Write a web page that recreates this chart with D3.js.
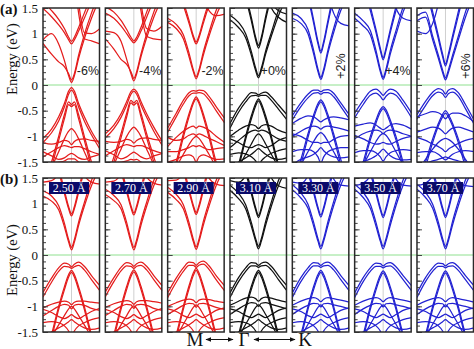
<!DOCTYPE html>
<html><head><meta charset="utf-8">
<script src="https://cdn.jsdelivr.net/npm/d3@7"></script>
<style>body{margin:0;background:#fff}svg{display:block}</style>
</head><body>
<svg id="chart" width="474" height="349"></svg>
<script>
// k-path sample points: M = -1, Gamma = 0, K = +1
const kPoints = [-1, -0.7, -0.45, -0.25, -0.1, 0, 0.1, 0.25, 0.45, 0.7, 1];
const energyTicks = [1.5, 1, 0.5, 0, -0.5, -1, -1.5];
const strainLabels = ["-6%", "-4%", "-2%", "+0%", "+2%", "+4%", "+6%"];
const distanceLabels = ["2.50 Å", "2.70 Å", "2.90 Å", "3.10 Å", "3.30 Å", "3.50 Å", "3.70 Å"];
const panelColors = ["red", "red", "red", "black", "blue", "blue", "blue"];

// band energies (eV) at kPoints, one array per band
const bandsA1 = [
 [0.88,1.0,0.8,0.48,0.18,0.05,0.18,0.52,0.9,1.3,1.7],
 [0.81,0.6,0.45,0.36,0.22,0.1,0.22,0.58,0.98,1.4,1.8],
 [1.49,1.33,1.17,1.02,0.88,0.8,0.88,1.05,1.3,1.62,1.9],
 [1.62,1.45,1.28,1.1,0.93,0.85,0.93,1.12,1.4,1.72,2.0],
 [3,3,3,3,3,2.8,2.3,1.6,1.02,1.0,1.1],
 [3,3,3,3,3,2.6,2.1,1.4,0.9,0.86,0.8],
 [-1.04,-0.86,-0.62,-0.36,-0.12,-0.05,-0.12,-0.36,-0.62,-0.9,-1.17],
 [-1.12,-0.93,-0.7,-0.43,-0.18,-0.1,-0.18,-0.43,-0.7,-0.97,-1.25],
 [-2.0,-1.5,-1.0,-0.58,-0.33,-0.38,-0.33,-0.58,-1.0,-1.5,-2.0],
 [-2.1,-1.6,-1.08,-0.66,-0.38,-0.42,-0.38,-0.66,-1.08,-1.6,-2.1],
 [-1.9,-1.6,-1.3,-1.05,-0.9,-0.85,-0.9,-1.05,-1.3,-1.6,-1.9],
 [-1.12,-1.15,-1.12,-1.08,-1.1,-1.16,-1.1,-1.06,-1.05,-1.08,-1.1],
 [-1.4,-1.3,-1.22,-1.18,-1.2,-1.22,-1.2,-1.2,-1.24,-1.3,-1.35],
 [-1.3,-1.38,-1.45,-1.42,-1.36,-1.33,-1.36,-1.42,-1.45,-1.4,-1.35],
 [-1.6,-1.52,-1.5,-1.48,-1.44,-1.44,-1.44,-1.5,-1.55,-1.55,-1.6]
];
const bandsA2 = [
 [1.05,1.02,0.85,0.5,0.22,0.08,0.22,0.55,0.92,1.32,1.7],
 [0.9,0.7,0.5,0.4,0.26,0.13,0.26,0.6,1.0,1.42,1.8],
 [1.4,1.3,1.15,1.0,0.88,0.82,0.88,1.05,1.32,1.65,1.9],
 [1.52,1.42,1.26,1.08,0.93,0.86,0.93,1.12,1.42,1.75,2.0],
 [3,3,3,3,3,2.8,2.3,1.6,1.1,1.05,1.15],
 [3,3,3,3,3,2.6,2.1,1.45,0.95,0.9,0.88],
 [-0.95,-0.78,-0.56,-0.32,-0.13,-0.08,-0.13,-0.32,-0.56,-0.82,-1.1],
 [-1.03,-0.85,-0.63,-0.39,-0.18,-0.12,-0.18,-0.39,-0.63,-0.9,-1.18],
 [-1.9,-1.4,-0.95,-0.55,-0.3,-0.35,-0.3,-0.55,-0.95,-1.4,-1.9],
 [-2.0,-1.5,-1.03,-0.62,-0.35,-0.39,-0.35,-0.62,-1.03,-1.5,-2.0],
 [-1.85,-1.55,-1.25,-1.0,-0.87,-0.82,-0.87,-1.0,-1.25,-1.55,-1.85],
 [-1.1,-1.12,-1.1,-1.06,-1.08,-1.13,-1.08,-1.04,-1.03,-1.06,-1.08],
 [-1.38,-1.28,-1.2,-1.16,-1.18,-1.2,-1.18,-1.18,-1.22,-1.28,-1.33],
 [-1.28,-1.36,-1.44,-1.4,-1.34,-1.31,-1.34,-1.4,-1.44,-1.38,-1.33],
 [-1.6,-1.52,-1.5,-1.48,-1.45,-1.46,-1.45,-1.5,-1.55,-1.55,-1.6]
];
const bandsA3 = [
 [1.22,1.1,0.9,0.55,0.26,0.12,0.26,0.58,0.95,1.35,1.7],
 [1.3,1.18,0.98,0.62,0.3,0.16,0.3,0.64,1.02,1.45,1.8],
 [2.2,1.9,1.55,1.2,0.92,0.8,0.92,1.2,1.55,1.9,2.2],
 [2.3,2.0,1.62,1.26,0.96,0.84,0.96,1.26,1.62,2.0,2.3],
 [3,3,3,3,2.8,2.5,2.2,1.8,1.45,1.35,1.38],
 [-0.84,-0.55,-0.3,-0.15,-0.11,-0.12,-0.1,-0.11,-0.22,-0.42,-0.65],
 [-0.92,-0.62,-0.37,-0.21,-0.16,-0.16,-0.15,-0.17,-0.29,-0.5,-0.74],
 [-2.0,-1.5,-0.95,-0.56,-0.32,-0.23,-0.32,-0.56,-0.95,-1.5,-2.0],
 [-2.1,-1.58,-1.02,-0.62,-0.36,-0.27,-0.36,-0.62,-1.02,-1.58,-2.1],
 [-1.2,-1.02,-0.9,-0.83,-0.8,-0.84,-0.8,-0.82,-0.88,-1.0,-1.12],
 [-1.02,-1.08,-1.05,-0.98,-0.95,-0.98,-0.95,-0.98,-1.04,-1.1,-1.18],
 [-1.9,-1.6,-1.35,-1.16,-1.04,-1.0,-1.04,-1.16,-1.35,-1.6,-1.9],
 [-1.3,-1.3,-1.26,-1.22,-1.18,-1.2,-1.18,-1.22,-1.26,-1.24,-1.22],
 [-1.5,-1.45,-1.38,-1.36,-1.4,-1.5,-1.4,-1.36,-1.4,-1.45,-1.44]
];
const bandsA4 = [
 [1.27,1.12,0.92,0.58,0.28,0.14,0.28,0.6,0.95,1.35,1.7],
 [1.36,1.22,1.0,0.65,0.33,0.18,0.33,0.66,1.02,1.45,1.8],
 [2.4,2.0,1.68,1.25,0.88,0.72,0.88,1.27,1.72,2.1,2.4],
 [2.5,2.1,1.76,1.31,0.93,0.77,0.93,1.33,1.8,2.2,2.5],
 [3,3,3,3,2.8,2.5,2.2,1.8,1.5,1.32,1.22],
 [3,3,3,3,2.8,2.6,2.3,1.9,1.6,1.45,1.38],
 [-0.75,-0.45,-0.26,-0.15,-0.16,-0.19,-0.16,-0.14,-0.23,-0.39,-0.58],
 [-0.84,-0.53,-0.33,-0.21,-0.2,-0.22,-0.2,-0.2,-0.3,-0.47,-0.68],
 [-2.1,-1.55,-1.0,-0.6,-0.36,-0.27,-0.36,-0.6,-1.0,-1.55,-2.1],
 [-2.2,-1.62,-1.06,-0.66,-0.41,-0.31,-0.41,-0.66,-1.06,-1.62,-2.2],
 [-1.0,-0.88,-0.8,-0.77,-0.8,-0.85,-0.8,-0.77,-0.8,-0.88,-0.94],
 [-1.22,-1.08,-0.97,-0.9,-0.88,-0.9,-0.88,-0.9,-0.97,-1.05,-1.1],
 [-1.9,-1.6,-1.35,-1.15,-1.0,-0.95,-1.0,-1.15,-1.35,-1.6,-1.9],
 [-1.05,-1.12,-1.2,-1.22,-1.18,-1.16,-1.18,-1.22,-1.18,-1.08,-1.02],
 [-1.35,-1.32,-1.34,-1.4,-1.48,-1.58,-1.48,-1.4,-1.33,-1.28,-1.24],
 [-1.6,-1.5,-1.42,-1.35,-1.28,-1.24,-1.28,-1.35,-1.42,-1.45,-1.42]
];
const bandsA5 = [
 [1.3,1.2,1.0,0.6,0.26,0.11,0.26,0.62,1.02,1.45,1.8],
 [1.4,1.3,1.08,0.67,0.31,0.15,0.31,0.68,1.1,1.55,1.9],
 [2.5,2.1,1.7,1.2,0.8,0.62,0.8,1.2,1.7,2.1,2.5],
 [2.6,2.2,1.78,1.26,0.85,0.66,0.85,1.26,1.78,2.2,2.6],
 [3,3,3,3,3,2.8,2.4,1.8,1.4,1.2,1.15],
 [-0.6,-0.35,-0.18,-0.1,-0.1,-0.13,-0.1,-0.09,-0.16,-0.35,-0.58],
 [-0.68,-0.42,-0.25,-0.16,-0.15,-0.18,-0.15,-0.15,-0.23,-0.42,-0.66],
 [-2.0,-1.45,-0.95,-0.58,-0.36,-0.29,-0.36,-0.58,-0.95,-1.45,-2.0],
 [-2.1,-1.55,-1.02,-0.64,-0.41,-0.33,-0.41,-0.64,-1.02,-1.55,-2.1],
 [-0.75,-0.65,-0.6,-0.62,-0.68,-0.72,-0.68,-0.64,-0.62,-0.64,-0.68],
 [-1.0,-0.9,-0.83,-0.8,-0.82,-0.86,-0.82,-0.8,-0.82,-0.85,-0.9],
 [-1.8,-1.55,-1.3,-1.1,-0.97,-0.93,-0.97,-1.1,-1.3,-1.55,-1.8],
 [-0.95,-1.0,-1.08,-1.12,-1.12,-1.14,-1.12,-1.12,-1.06,-1.0,-0.98],
 [-1.3,-1.26,-1.26,-1.3,-1.4,-1.52,-1.4,-1.3,-1.25,-1.22,-1.22],
 [-1.55,-1.45,-1.4,-1.35,-1.28,-1.22,-1.28,-1.35,-1.4,-1.42,-1.4]
];
const bandsA6 = [
 [1.3,1.15,0.98,0.6,0.26,0.11,0.26,0.6,0.98,1.42,1.8],
 [1.4,1.25,1.06,0.67,0.31,0.15,0.31,0.67,1.06,1.52,1.9],
 [2.3,1.95,1.45,1.02,0.67,0.49,0.67,1.02,1.45,1.95,2.3],
 [2.4,2.05,1.53,1.08,0.72,0.53,0.72,1.08,1.53,2.05,2.4],
 [3,3,3,3,3,2.8,2.4,1.9,1.5,1.3,1.25],
 [-0.55,-0.3,-0.12,-0.08,-0.14,-0.2,-0.14,-0.08,-0.12,-0.3,-0.55],
 [-0.64,-0.38,-0.2,-0.16,-0.22,-0.29,-0.22,-0.16,-0.2,-0.38,-0.64],
 [-2.0,-1.5,-1.0,-0.68,-0.48,-0.42,-0.48,-0.68,-1.0,-1.5,-2.0],
 [-2.1,-1.58,-1.07,-0.74,-0.53,-0.46,-0.53,-0.74,-1.07,-1.58,-2.1],
 [-0.8,-0.76,-0.74,-0.78,-0.84,-0.87,-0.84,-0.78,-0.75,-0.78,-0.86],
 [-1.05,-0.95,-0.9,-0.88,-0.9,-0.95,-0.9,-0.88,-0.9,-0.95,-1.0],
 [-1.8,-1.55,-1.3,-1.1,-0.98,-0.94,-0.98,-1.1,-1.3,-1.55,-1.8],
 [-0.98,-1.05,-1.12,-1.15,-1.14,-1.12,-1.14,-1.15,-1.1,-1.04,-1.0],
 [-1.32,-1.28,-1.28,-1.32,-1.4,-1.48,-1.4,-1.32,-1.28,-1.26,-1.28],
 [-1.58,-1.5,-1.44,-1.38,-1.3,-1.25,-1.3,-1.38,-1.44,-1.46,-1.45]
];
const bandsA7 = [
 [1.25,1.32,0.88,0.52,0.24,0.1,0.24,0.52,0.88,1.32,1.75],
 [1.35,1.42,0.95,0.58,0.29,0.14,0.29,0.58,0.95,1.42,1.85],
 [2.3,1.9,1.35,0.9,0.55,0.37,0.55,0.9,1.35,1.9,2.3],
 [2.4,2.0,1.43,0.96,0.6,0.41,0.6,0.96,1.43,2.0,2.4],
 [3,3,3,2.5,1.8,1.52,1.8,2.5,3,3,3],
 [1.05,1.0,1.2,1.6,2.2,2.8,3,3,3,3,3],
 [-0.58,-0.32,-0.14,-0.07,-0.1,-0.18,-0.1,-0.07,-0.15,-0.38,-0.68],
 [-0.66,-0.4,-0.21,-0.14,-0.17,-0.24,-0.17,-0.14,-0.22,-0.46,-0.76],
 [-2.0,-1.5,-1.05,-0.75,-0.57,-0.5,-0.57,-0.75,-1.05,-1.5,-2.0],
 [-2.1,-1.6,-1.12,-0.8,-0.62,-0.55,-0.62,-0.8,-1.12,-1.6,-2.1],
 [-0.62,-0.56,-0.52,-0.54,-0.6,-0.66,-0.6,-0.55,-0.55,-0.6,-0.72],
 [-0.92,-0.86,-0.82,-0.84,-0.9,-0.95,-0.9,-0.84,-0.82,-0.86,-0.92],
 [-1.7,-1.45,-1.25,-1.12,-1.06,-1.04,-1.06,-1.12,-1.25,-1.45,-1.7],
 [-1.02,-1.08,-1.15,-1.2,-1.25,-1.3,-1.25,-1.2,-1.14,-1.08,-1.04],
 [-1.32,-1.3,-1.3,-1.35,-1.42,-1.46,-1.42,-1.35,-1.3,-1.28,-1.3],
 [-1.6,-1.52,-1.48,-1.45,-1.42,-1.4,-1.42,-1.45,-1.48,-1.5,-1.5]
];
const bandsB1 = [
 [1.15,1.05,0.88,0.55,0.25,0.1,0.25,0.58,0.95,1.35,1.7],
 [1.25,1.15,0.96,0.62,0.3,0.15,0.3,0.64,1.02,1.45,1.8],
 [2.3,1.95,1.62,1.2,0.9,0.76,0.9,1.22,1.65,2.05,2.4],
 [2.4,2.05,1.7,1.26,0.94,0.8,0.94,1.28,1.72,2.15,2.5],
 [3,3,3,3,2.8,2.5,2.2,1.8,1.55,1.42,1.38],
 [1.42,1.45,1.6,2,2.5,3,3,3,3,3,3],
 [-0.73,-0.45,-0.25,-0.16,-0.18,-0.23,-0.18,-0.14,-0.22,-0.4,-0.6],
 [-0.82,-0.53,-0.32,-0.22,-0.23,-0.26,-0.23,-0.2,-0.29,-0.48,-0.7],
 [-2.1,-1.55,-1.0,-0.62,-0.38,-0.3,-0.38,-0.62,-1.0,-1.55,-2.1],
 [-2.2,-1.62,-1.06,-0.68,-0.43,-0.34,-0.43,-0.68,-1.06,-1.62,-2.2],
 [-1.03,-0.96,-0.92,-0.9,-0.92,-0.97,-0.92,-0.9,-0.9,-0.92,-0.94],
 [-1.19,-1.08,-1.0,-0.96,-0.98,-1.05,-0.98,-0.96,-0.98,-1.04,-1.08],
 [-1.9,-1.6,-1.36,-1.18,-1.05,-1.0,-1.05,-1.18,-1.36,-1.6,-1.9],
 [-1.06,-1.12,-1.2,-1.24,-1.2,-1.16,-1.2,-1.24,-1.18,-1.1,-1.04],
 [-1.32,-1.3,-1.32,-1.38,-1.48,-1.6,-1.48,-1.38,-1.32,-1.26,-1.22],
 [-1.6,-1.5,-1.42,-1.36,-1.3,-1.26,-1.3,-1.36,-1.42,-1.45,-1.42]
];
const bandsB2 = [
 [1.18,1.06,0.9,0.56,0.25,0.1,0.25,0.58,0.95,1.35,1.7],
 [1.28,1.16,0.98,0.63,0.3,0.15,0.3,0.65,1.03,1.45,1.8],
 [2.3,1.95,1.62,1.22,0.92,0.78,0.92,1.24,1.66,2.05,2.4],
 [2.4,2.05,1.7,1.28,0.96,0.82,0.96,1.3,1.74,2.15,2.5],
 [3,3,3,3,2.8,2.5,2.2,1.8,1.52,1.4,1.36],
 [1.42,1.44,1.6,2,2.5,3,3,3,3,3,3],
 [-0.72,-0.44,-0.24,-0.15,-0.17,-0.22,-0.17,-0.14,-0.22,-0.4,-0.6],
 [-0.81,-0.52,-0.31,-0.21,-0.22,-0.26,-0.22,-0.2,-0.29,-0.48,-0.7],
 [-2.1,-1.55,-1.0,-0.61,-0.37,-0.29,-0.37,-0.61,-1.0,-1.55,-2.1],
 [-2.2,-1.62,-1.06,-0.67,-0.42,-0.33,-0.42,-0.67,-1.06,-1.62,-2.2],
 [-1.02,-0.95,-0.91,-0.89,-0.91,-0.96,-0.91,-0.89,-0.89,-0.91,-0.94],
 [-1.18,-1.08,-1.0,-0.96,-0.97,-1.04,-0.97,-0.96,-0.98,-1.04,-1.08],
 [-1.9,-1.6,-1.36,-1.18,-1.04,-0.99,-1.04,-1.18,-1.36,-1.6,-1.9],
 [-1.06,-1.12,-1.2,-1.24,-1.2,-1.16,-1.2,-1.24,-1.18,-1.1,-1.04],
 [-1.32,-1.3,-1.32,-1.38,-1.48,-1.6,-1.48,-1.38,-1.32,-1.26,-1.22],
 [-1.6,-1.5,-1.42,-1.36,-1.3,-1.26,-1.3,-1.36,-1.42,-1.45,-1.42]
];
const bandsB3 = [
 [1.22,1.08,0.9,0.56,0.26,0.11,0.26,0.58,0.95,1.35,1.7],
 [1.32,1.18,0.98,0.63,0.31,0.16,0.31,0.65,1.03,1.45,1.8],
 [2.3,1.95,1.63,1.23,0.93,0.79,0.93,1.25,1.67,2.05,2.4],
 [2.4,2.05,1.71,1.29,0.97,0.83,0.97,1.31,1.75,2.15,2.5],
 [3,3,3,3,2.8,2.5,2.2,1.8,1.5,1.38,1.35],
 [1.45,1.46,1.62,2,2.5,3,3,3,3,3,3],
 [-0.74,-0.45,-0.25,-0.14,-0.15,-0.2,-0.15,-0.12,-0.21,-0.4,-0.6],
 [-0.83,-0.53,-0.32,-0.2,-0.2,-0.24,-0.2,-0.18,-0.28,-0.48,-0.7],
 [-2.1,-1.55,-1.0,-0.6,-0.35,-0.26,-0.35,-0.6,-1.0,-1.55,-2.1],
 [-2.2,-1.62,-1.06,-0.66,-0.4,-0.3,-0.4,-0.66,-1.06,-1.62,-2.2],
 [-1.0,-0.93,-0.88,-0.86,-0.88,-0.93,-0.88,-0.86,-0.87,-0.9,-0.93],
 [-1.16,-1.06,-0.98,-0.94,-0.95,-1.02,-0.95,-0.94,-0.97,-1.02,-1.06],
 [-1.9,-1.6,-1.35,-1.16,-1.02,-0.97,-1.02,-1.16,-1.35,-1.6,-1.9],
 [-1.05,-1.1,-1.18,-1.22,-1.18,-1.15,-1.18,-1.22,-1.16,-1.08,-1.03],
 [-1.32,-1.3,-1.32,-1.38,-1.48,-1.6,-1.48,-1.38,-1.32,-1.26,-1.22],
 [-1.6,-1.5,-1.42,-1.36,-1.3,-1.26,-1.3,-1.36,-1.42,-1.45,-1.42]
];
const bandsB4 = [
 [1.26,1.1,0.9,0.56,0.27,0.12,0.27,0.58,0.95,1.35,1.7],
 [1.36,1.2,0.98,0.63,0.32,0.17,0.32,0.65,1.03,1.45,1.8],
 [2.3,1.95,1.6,1.19,0.88,0.73,0.88,1.21,1.63,2.05,2.4],
 [2.4,2.05,1.68,1.25,0.92,0.77,0.92,1.27,1.71,2.15,2.5],
 [3,3,3,3,2.8,2.5,2.2,1.8,1.5,1.35,1.3],
 [1.45,1.42,1.55,1.95,2.5,3,3,3,3,3,3],
 [-0.74,-0.44,-0.25,-0.15,-0.16,-0.2,-0.16,-0.14,-0.22,-0.4,-0.6],
 [-0.83,-0.52,-0.32,-0.21,-0.21,-0.24,-0.21,-0.2,-0.29,-0.48,-0.7],
 [-2.1,-1.55,-1.0,-0.61,-0.38,-0.3,-0.38,-0.61,-1.0,-1.55,-2.1],
 [-2.2,-1.62,-1.06,-0.67,-0.43,-0.34,-0.43,-0.67,-1.06,-1.62,-2.2],
 [-0.98,-0.9,-0.84,-0.82,-0.85,-0.9,-0.85,-0.82,-0.84,-0.88,-0.92],
 [-1.16,-1.05,-0.97,-0.93,-0.94,-1.0,-0.94,-0.93,-0.96,-1.0,-1.05],
 [-1.9,-1.6,-1.35,-1.16,-1.02,-0.97,-1.02,-1.16,-1.35,-1.6,-1.9],
 [-1.05,-1.1,-1.18,-1.22,-1.18,-1.15,-1.18,-1.22,-1.16,-1.08,-1.03],
 [-1.32,-1.3,-1.32,-1.38,-1.48,-1.6,-1.48,-1.38,-1.32,-1.26,-1.22],
 [-1.6,-1.5,-1.42,-1.36,-1.3,-1.26,-1.3,-1.36,-1.42,-1.45,-1.42]
];
const bandsB5 = [
 [1.27,1.11,0.91,0.56,0.27,0.12,0.27,0.58,0.96,1.36,1.7],
 [1.37,1.21,0.99,0.63,0.32,0.17,0.32,0.65,1.04,1.46,1.8],
 [2.3,1.95,1.6,1.2,0.89,0.74,0.89,1.22,1.64,2.05,2.4],
 [2.4,2.05,1.68,1.26,0.93,0.78,0.93,1.28,1.72,2.15,2.5],
 [3,3,3,3,2.8,2.5,2.2,1.8,1.48,1.36,1.34],
 [1.42,1.4,1.55,1.95,2.5,3,3,3,3,3,3],
 [-0.74,-0.44,-0.25,-0.15,-0.16,-0.2,-0.16,-0.14,-0.22,-0.4,-0.6],
 [-0.83,-0.52,-0.32,-0.21,-0.21,-0.24,-0.21,-0.2,-0.29,-0.48,-0.7],
 [-2.1,-1.55,-1.0,-0.61,-0.38,-0.3,-0.38,-0.61,-1.0,-1.55,-2.1],
 [-2.2,-1.62,-1.06,-0.67,-0.43,-0.34,-0.43,-0.67,-1.06,-1.62,-2.2],
 [-0.98,-0.9,-0.85,-0.83,-0.86,-0.91,-0.86,-0.83,-0.85,-0.88,-0.92],
 [-1.16,-1.05,-0.98,-0.94,-0.95,-1.01,-0.95,-0.94,-0.97,-1.0,-1.05],
 [-1.9,-1.6,-1.35,-1.16,-1.02,-0.97,-1.02,-1.16,-1.35,-1.6,-1.9],
 [-1.05,-1.1,-1.18,-1.22,-1.18,-1.15,-1.18,-1.22,-1.16,-1.08,-1.03],
 [-1.32,-1.3,-1.32,-1.38,-1.48,-1.6,-1.48,-1.38,-1.32,-1.26,-1.22],
 [-1.6,-1.5,-1.42,-1.36,-1.3,-1.26,-1.3,-1.36,-1.42,-1.45,-1.42]
];
const bandsB6 = [
 [1.28,1.12,0.91,0.56,0.27,0.12,0.27,0.58,0.96,1.36,1.7],
 [1.38,1.22,0.99,0.63,0.32,0.17,0.32,0.65,1.04,1.46,1.8],
 [2.3,1.95,1.59,1.19,0.88,0.73,0.88,1.21,1.63,2.05,2.4],
 [2.4,2.05,1.67,1.25,0.92,0.77,0.92,1.27,1.71,2.15,2.5],
 [3,3,3,3,2.8,2.5,2.2,1.8,1.48,1.36,1.34],
 [1.35,1.4,1.55,1.95,2.5,3,3,3,3,3,3],
 [-0.74,-0.44,-0.25,-0.16,-0.17,-0.21,-0.17,-0.15,-0.23,-0.4,-0.6],
 [-0.83,-0.52,-0.32,-0.22,-0.22,-0.25,-0.22,-0.21,-0.3,-0.48,-0.7],
 [-2.1,-1.55,-1.0,-0.62,-0.39,-0.31,-0.39,-0.62,-1.0,-1.55,-2.1],
 [-2.2,-1.62,-1.06,-0.68,-0.44,-0.35,-0.44,-0.68,-1.06,-1.62,-2.2],
 [-0.98,-0.9,-0.85,-0.83,-0.86,-0.91,-0.86,-0.83,-0.85,-0.88,-0.92],
 [-1.16,-1.05,-0.98,-0.94,-0.95,-1.01,-0.95,-0.94,-0.97,-1.0,-1.05],
 [-1.9,-1.6,-1.35,-1.16,-1.02,-0.97,-1.02,-1.16,-1.35,-1.6,-1.9],
 [-1.05,-1.1,-1.18,-1.22,-1.18,-1.15,-1.18,-1.22,-1.16,-1.08,-1.03],
 [-1.32,-1.3,-1.32,-1.38,-1.48,-1.6,-1.48,-1.38,-1.32,-1.26,-1.22],
 [-1.6,-1.5,-1.42,-1.36,-1.3,-1.26,-1.3,-1.36,-1.42,-1.45,-1.42]
];
const bandsB7 = [
 [1.28,1.12,0.91,0.57,0.27,0.12,0.27,0.59,0.96,1.36,1.7],
 [1.38,1.22,0.99,0.64,0.32,0.17,0.32,0.66,1.04,1.46,1.8],
 [2.3,1.95,1.59,1.19,0.88,0.73,0.88,1.21,1.63,2.05,2.4],
 [2.4,2.05,1.67,1.25,0.92,0.77,0.92,1.27,1.71,2.15,2.5],
 [3,3,3,3,2.8,2.5,2.2,1.8,1.47,1.35,1.33],
 [1.35,1.4,1.55,1.95,2.5,3,3,3,3,3,3],
 [-0.74,-0.44,-0.25,-0.16,-0.17,-0.21,-0.17,-0.15,-0.23,-0.4,-0.6],
 [-0.83,-0.52,-0.32,-0.22,-0.22,-0.25,-0.22,-0.21,-0.3,-0.48,-0.7],
 [-2.1,-1.55,-1.0,-0.62,-0.39,-0.31,-0.39,-0.62,-1.0,-1.55,-2.1],
 [-2.2,-1.62,-1.06,-0.68,-0.44,-0.35,-0.44,-0.68,-1.06,-1.62,-2.2],
 [-0.98,-0.9,-0.85,-0.83,-0.86,-0.91,-0.86,-0.83,-0.85,-0.88,-0.92],
 [-1.16,-1.05,-0.98,-0.94,-0.95,-1.01,-0.95,-0.94,-0.97,-1.0,-1.05],
 [-1.9,-1.6,-1.35,-1.16,-1.02,-0.97,-1.02,-1.16,-1.35,-1.6,-1.9],
 [-1.05,-1.1,-1.18,-1.22,-1.18,-1.15,-1.18,-1.22,-1.16,-1.08,-1.03],
 [-1.32,-1.3,-1.32,-1.38,-1.48,-1.6,-1.48,-1.38,-1.32,-1.26,-1.22],
 [-1.6,-1.5,-1.42,-1.36,-1.3,-1.26,-1.3,-1.36,-1.42,-1.45,-1.42]
];

const rowABands = [bandsA1, bandsA2, bandsA3, bandsA4, bandsA5, bandsA6, bandsA7];
const rowBBands = [bandsB1, bandsB2, bandsB3, bandsB4, bandsB5, bandsB6, bandsB7];

// ---- layout ----
const strokeOf = {red: "#e41c1c", black: "#111111", blue: "#2222d2"};
const panelX0 = 43, panelStep = 62.33, panelW = 57;
const rows = [
  {key: "a", top: 8, bottom: 162, bands: rowABands},
  {key: "b", top: 178, bottom: 332, bands: rowBBands}
];
const serif = "'Liberation Serif', 'DejaVu Serif', serif";
const sans = "'Liberation Sans', Arial, sans-serif";

const svg = d3.select("#chart");
const defs = svg.append("defs");
defs.append("marker").attr("id", "arrowHead")
  .attr("viewBox", "0 0 10 10").attr("refX", 9).attr("refY", 5)
  .attr("markerWidth", 6).attr("markerHeight", 6).attr("orient", "auto-start-reverse")
  .append("path").attr("d", "M0,1 L10,5 L0,9 Z").attr("fill", "#111");

const minorTicks = d3.range(-1.5, 1.5001, 0.125);

rows.forEach((row, ri) => {
  const y = d3.scaleLinear().domain([-1.5, 1.5]).range([row.bottom, row.top]);
  const g = svg.append("g");

  // Fermi level line spanning the whole row
  g.append("line")
    .attr("x1", panelX0).attr("x2", 474)
    .attr("y1", y(0)).attr("y2", y(0))
    .attr("stroke", "#8fe08f").attr("stroke-width", 1);

  row.bands.forEach((bands, pi) => {
    const x0 = panelX0 + pi * panelStep;
    const x = d3.scaleLinear().domain([-1, 1]).range([x0, x0 + panelW]);
    const clipId = `clip-${row.key}${pi}`;
    defs.append("clipPath").attr("id", clipId)
      .append("rect").attr("x", x0).attr("y", row.top)
      .attr("width", panelW).attr("height", row.bottom - row.top);

    const pg = g.append("g");
    // Gamma point guide
    pg.append("line")
      .attr("x1", x(0)).attr("x2", x(0))
      .attr("y1", row.top).attr("y2", row.bottom)
      .attr("stroke", "#cfcfcf").attr("stroke-width", 1);

    const line = d3.line()
      .x((d, i) => x(kPoints[i]))
      .y(d => y(d))
      .curve(d3.curveMonotoneX);

    pg.append("g").attr("clip-path", `url(#${clipId})`)
      .selectAll("path").data(bands).join("path")
      .attr("d", line)
      .attr("fill", "none")
      .attr("stroke", strokeOf[panelColors[pi]])
      .attr("stroke-width", 1.25)
      .attr("stroke-linejoin", "round");

    // inner ticks on the left edge
    pg.append("g").attr("transform", `translate(${x0},0)`)
      .call(d3.axisRight(y).tickValues(minorTicks).tickSize(3).tickFormat(""))
      .call(a => a.select(".domain").remove())
      .call(a => a.selectAll("line").attr("stroke", "#444"));
    pg.append("g").attr("transform", `translate(${x0},0)`)
      .call(d3.axisRight(y).tickValues(energyTicks).tickSize(5).tickFormat(""))
      .call(a => a.select(".domain").remove())
      .call(a => a.selectAll("line").attr("stroke", "#444"));

    // frame
    pg.append("rect")
      .attr("x", x0).attr("y", row.top)
      .attr("width", panelW - 0.5).attr("height", row.bottom - row.top)
      .attr("fill", "none").attr("stroke", "#2a2a2a").attr("stroke-width", 1.5);

    if (row.key === "a") {
      const label = strainLabels[pi];
      const vertical = label === "+2%" || label === "+6%";
      if (vertical) {
        pg.append("text")
          .attr("transform", `translate(${x0 + 53},${y(0.37)}) rotate(-90)`)
          .attr("text-anchor", "middle")
          .attr("font-family", sans).attr("font-size", 12.5).attr("fill", "#222")
          .text(label);
      } else {
        pg.append("text")
          .attr("x", x0 + 56).attr("y", y(0.2))
          .attr("text-anchor", "end")
          .attr("font-family", sans).attr("font-size", 12.5).attr("fill", "#222")
          .text(label);
      }
    } else {
      pg.append("rect")
        .attr("x", x0 + 6).attr("y", 182)
        .attr("width", 40).attr("height", 12)
        .attr("fill", "#0a0a6a");
      pg.append("text")
        .attr("x", x0 + 26).attr("y", 192)
        .attr("text-anchor", "middle")
        .attr("font-family", serif).attr("font-size", 12).attr("fill", "#fff")
        .text(distanceLabels[pi]);
    }
  });

  // energy tick labels on the first panel
  g.append("g").attr("transform", `translate(${panelX0},0)`)
    .call(d3.axisLeft(y).tickValues(energyTicks).tickSize(0).tickPadding(5).tickFormat(d => String(d)))
    .call(a => a.select(".domain").remove())
    .call(a => a.selectAll("text").attr("font-family", serif).attr("font-size", 13).attr("fill", "#111"));

  g.append("text")
    .attr("transform", `translate(17,${ri === 0 ? 59 : 260}) rotate(-90)`)
    .attr("text-anchor", "middle")
    .attr("font-family", serif).attr("font-size", 14.5).attr("fill", "#111")
    .text("Energy (eV)");

  g.append("text")
    .attr("x", 0).attr("y", row.top + 6)
    .attr("font-family", serif).attr("font-size", 15).attr("font-weight", "bold").attr("fill", "#111")
    .text(`(${row.key})`);
});

// k-path legend below the lower row
const kg = svg.append("g").attr("font-family", serif).attr("font-size", 19).attr("fill", "#111");
kg.append("text").attr("x", 195).attr("y", 346).attr("text-anchor", "middle").text("M");
kg.append("text").attr("x", 244).attr("y", 346).attr("text-anchor", "middle").text("Γ");
kg.append("text").attr("x", 305).attr("y", 346).attr("text-anchor", "middle").text("K");
[[206, 233], [254, 295]].forEach(([a, b]) => {
  kg.append("line").attr("x1", a).attr("x2", b).attr("y1", 339.5).attr("y2", 339.5)
    .attr("stroke", "#111").attr("stroke-width", 1)
    .attr("marker-start", "url(#arrowHead)").attr("marker-end", "url(#arrowHead)");
});
</script>
</body></html>
